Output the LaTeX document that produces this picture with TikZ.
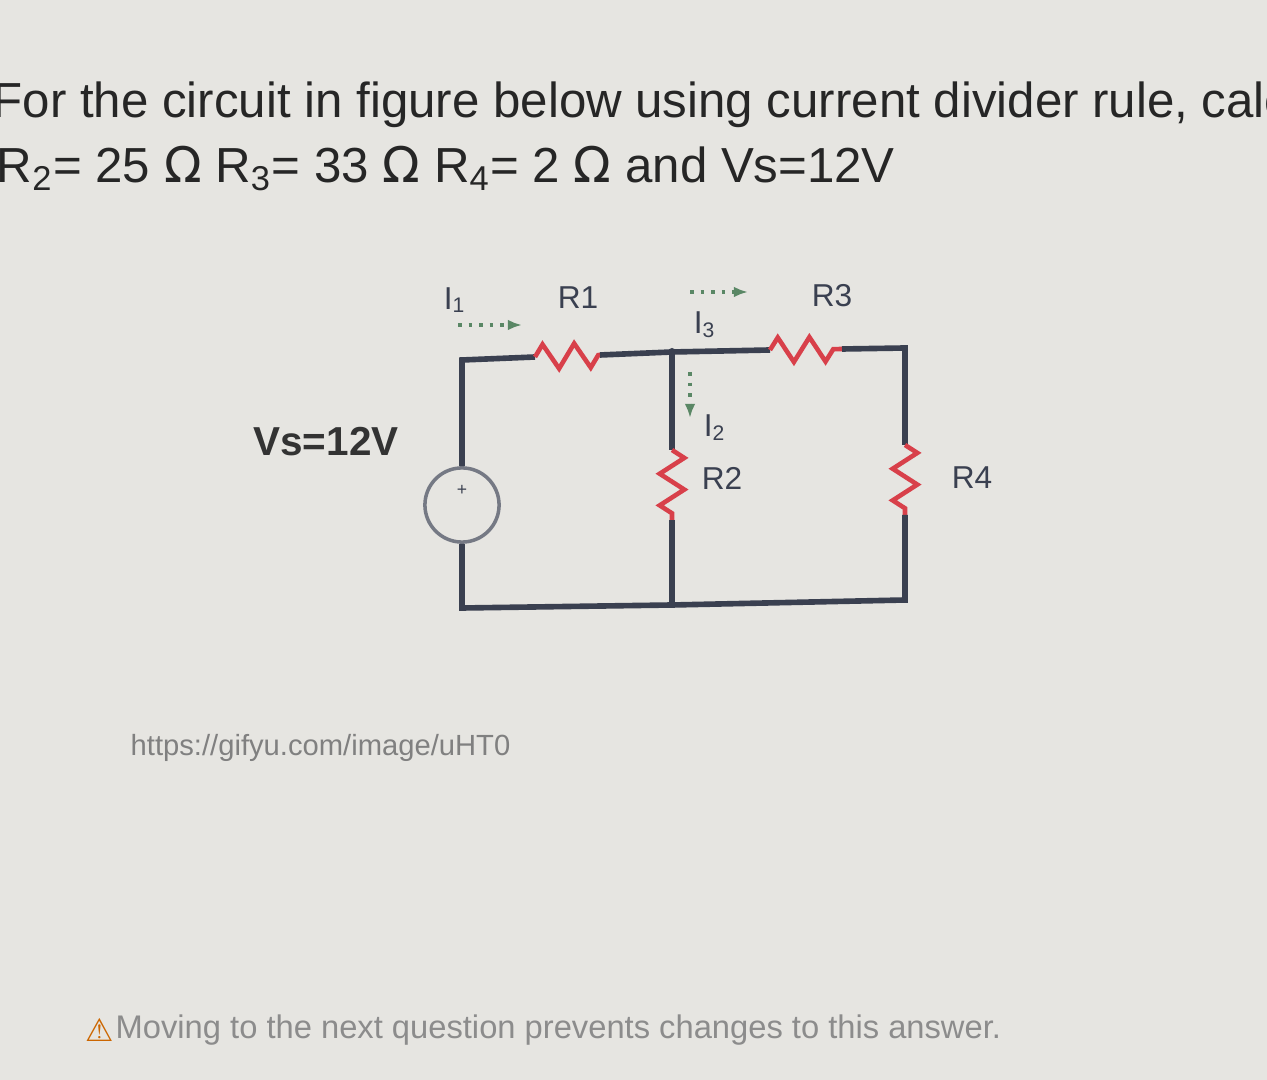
\documentclass[tikz,border=0pt]{standalone}
\usepackage{fontspec}
\setmainfont{Liberation Sans}
\newfontfamily\dv{DejaVu Sans}
\usetikzlibrary{decorations.pathmorphing,arrows.meta}
\definecolor{bg}{HTML}{E6E5E1}
\definecolor{wire}{HTML}{3A4050}
\definecolor{res}{HTML}{D8404A}
\definecolor{grn}{HTML}{4A8A5A}
\tikzset{
  wireline/.style={draw=wire,line width=1.6pt},
  resline/.style={draw=res,line width=1.3pt,decorate,decoration={zigzag,segment length=9pt,amplitude=3.5pt}},
  lbl/.style={font=\fontsize{9}{10}\selectfont,text=wire},
  curarrow/.style={draw=grn!70!gray,line width=1pt,dotted,-{Latex[length=4pt]}},
}
\begin{document}
\begin{tikzpicture}[x=0.01cm,y=-0.01cm]
\useasboundingbox (0,0) rectangle (1267,1080);
\fill[bg] (0,0) rectangle (1267,1080);
\begin{scope}
\clip (0,0) rectangle (1267,1080);
\node[anchor=base west,inner sep=0,font=\fontsize{14}{16}\selectfont,text=black!85] (t1) at (-8,118) {For the circuit in figure below using current divider rule, calc};
\node[anchor=base west,inner sep=0,font=\fontsize{14}{16}\selectfont,text=black!85] (t2) at (-4,183) {R\textsubscript{2}= 25 {\dv Ω} R\textsubscript{3}= 33 {\dv Ω} R\textsubscript{4}= 2 {\dv Ω} and Vs=12V};
\end{scope}
\coordinate (tl) at (462,360);
\coordinate (j) at (672,352);
\coordinate (tr) at (905,348);
\coordinate (bl) at (462,608);
\coordinate (bm) at (672,605);
\coordinate (br) at (905,600);
\node[circle,draw=wire!70,line width=1pt,minimum size=74pt*0.0285*10,inner sep=0] (src) at (462,505) {};
\node[font=\tiny,text=wire] (plus) at (462,490) {+};
\coordinate (r1a) at (535,357); \coordinate (r1b) at (600,355);
\coordinate (r3a) at (770,350); \coordinate (r3b) at (842,349);
\coordinate (r2a) at (672,450); \coordinate (r2b) at (672,520);
\coordinate (r4a) at (905,445); \coordinate (r4b) at (905,515);
\draw[wireline] (src.north) -- (tl) -- (r1a);
\draw[resline] (r1a) -- (r1b);
\draw[wireline] (r1b) -- (j) -- (r3a);
\draw[resline] (r3a) -- (r3b);
\draw[wireline] (r3b) -- (tr) -- (r4a);
\draw[resline] (r4a) -- (r4b);
\draw[wireline] (r4b) -- (br) -- (bm) -- (bl) -- (src.south);
\draw[wireline] (j) -- (r2a);
\draw[resline] (r2a) -- (r2b);
\draw[wireline] (r2b) -- (bm);
\fill[wire] (j) circle (4);
\node[lbl] (i1) at (455,300) {I\textsubscript{1}};
\node[lbl] (lr1) at (578,298) {R1};
\node[lbl] (i3) at (705,325) {I\textsubscript{3}};
\node[lbl] (lr3) at (832,296) {R3};
\node[lbl] (i2) at (715,428) {I\textsubscript{2}};
\node[lbl] (lr2) at (722,478) {R2};
\node[lbl] (lr4) at (972,478) {R4};
\node[font=\bfseries\fontsize{11.5}{12}\selectfont,text=black!80] (vs) at (326,442) {Vs=12V};
\coordinate (a1s) at (458,325); \coordinate (a1e) at (522,325);
\coordinate (a3s) at (690,292); \coordinate (a3e) at (748,292);
\coordinate (a2s) at (690,372); \coordinate (a2e) at (690,418);
\draw[curarrow] (a1s) -- (a1e);
\draw[curarrow] (a3s) -- (a3e);
\draw[curarrow] (a2s) -- (a2e);
\node[anchor=west,inner sep=0,font=\fontsize{8.3}{10}\selectfont,text=gray] (url) at (130,748) {https://gifyu.com/image/uHT0};
\node[anchor=west,inner sep=0,font=\fontsize{9.3}{11}\selectfont,text=gray!90] (mv) at (115,1030) {Moving to the next question prevents changes to this answer.};
\node[font=\dv\fontsize{9}{10}\selectfont,text=orange!80!black] (warn) at (100,1030) {⚠};
\end{tikzpicture}
\end{document}
